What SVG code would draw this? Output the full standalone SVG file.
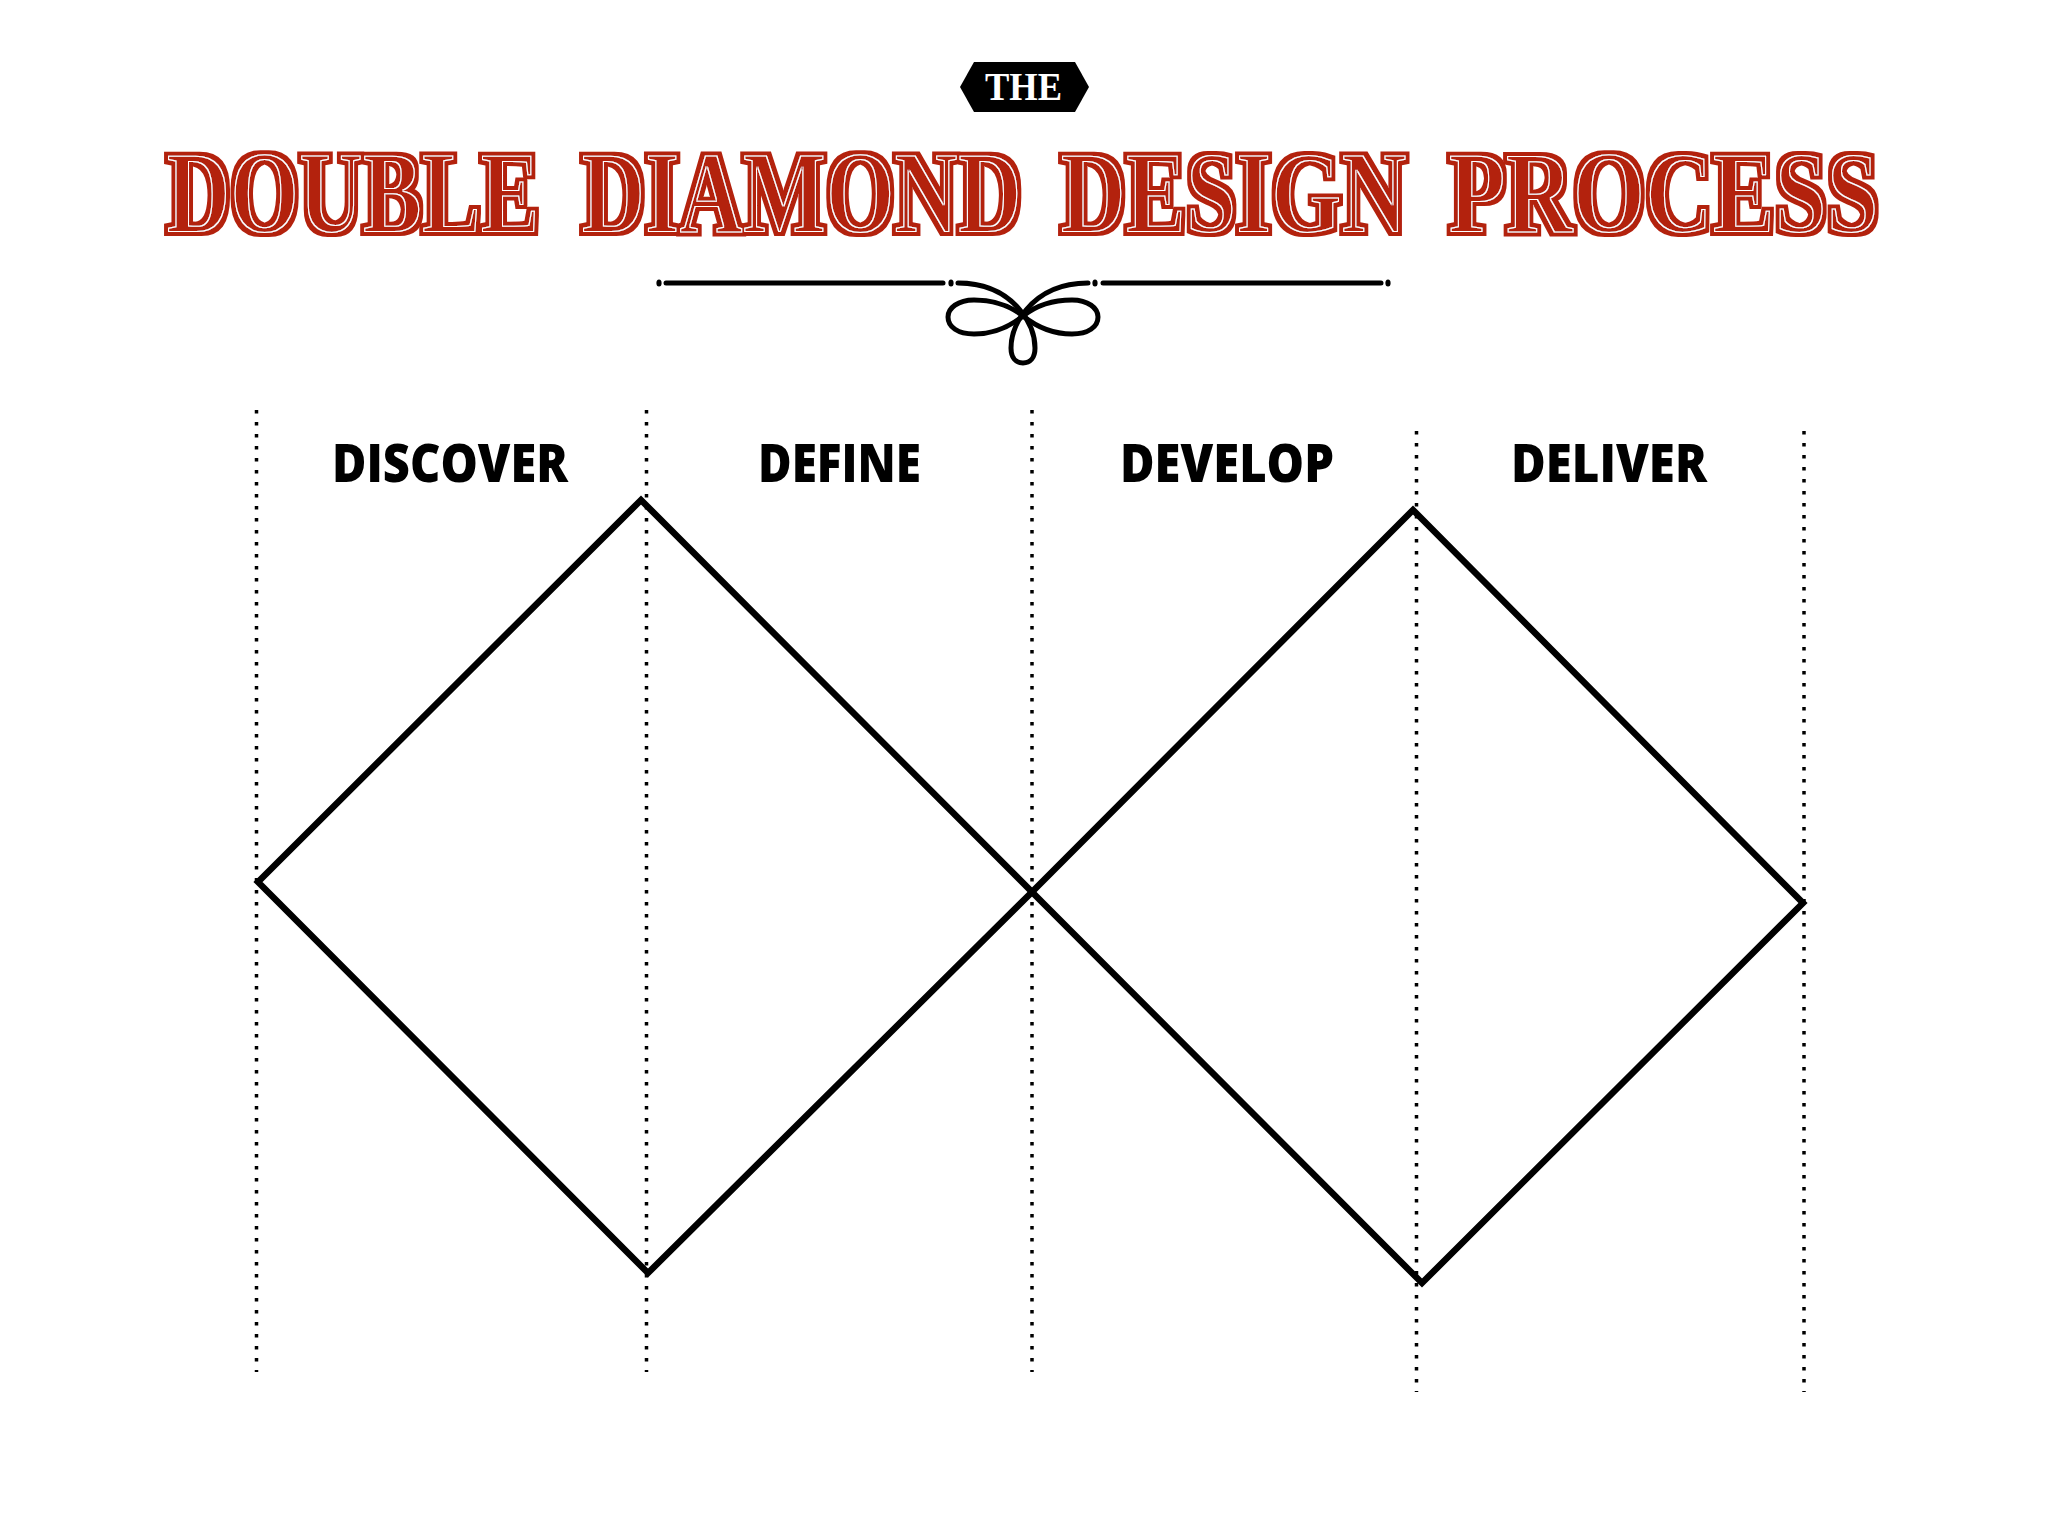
<svg xmlns="http://www.w3.org/2000/svg" width="2048" height="1536" viewBox="0 0 2048 1536">
  <defs>
    <style>
      .title { font-family: "Liberation Serif", "DejaVu Serif", serif; font-weight: bold; font-size: 116px; fill: #b3200f; }
      .badge-text { font-family: "Liberation Serif", "DejaVu Serif", serif; font-weight: bold; font-size: 39px; fill: #ffffff; }
      .label { font-family: "Open Sans", "DejaVu Sans", sans-serif; font-weight: 800; font-size: 53px; fill: #000000; }
      .guide { stroke: #000000; stroke-width: 3.5; stroke-dasharray: 3.5 8.5; fill: none; }
      .diamond { fill: none; stroke: #000000; stroke-width: 6.5; stroke-linejoin: miter; }
      .orn { fill: none; stroke: #000000; stroke-width: 5; stroke-linecap: round; stroke-linejoin: round; }
      .dot { fill: #000000; }
    </style>
    <filter id="inline" filterUnits="userSpaceOnUse" x="100" y="100" width="1850" height="180">
      <feMorphology in="SourceAlpha" operator="dilate" radius="3.5" result="fat"/>
      <feFlood flood-color="#b3200f" result="red"/>
      <feComposite in="red" in2="fat" operator="in" result="redfat"/>
      <feMorphology in="SourceAlpha" operator="erode" radius="1" result="thin"/>
      <feComposite in="SourceAlpha" in2="thin" operator="out" result="ring"/>
      <feFlood flood-color="#ffffff" result="white"/>
      <feComposite in="white" in2="ring" operator="in" result="whiteRing"/>
      <feMerge>
        <feMergeNode in="redfat"/>
        <feMergeNode in="whiteRing"/>
      </feMerge>
    </filter>
  </defs>

  <rect x="0" y="0" width="2048" height="1536" fill="#ffffff"/>

  <g id="badge">
    <polygon points="960,87 974,62 1075,62 1089,87 1075,112 974,112" fill="#000000"/>
    <text class="badge-text" x="1023.5" y="100" text-anchor="middle" textLength="77" lengthAdjust="spacingAndGlyphs">THE</text>
  </g>

  <g id="title" filter="url(#inline)">
    <text class="title" y="232" transform="scale(0.77,1)"><tspan x="216.2" textLength="484.4" lengthAdjust="spacingAndGlyphs">DOUBLE</tspan> <tspan x="755.2" textLength="571.4" lengthAdjust="spacingAndGlyphs">DIAMOND</tspan> <tspan x="1377.3" textLength="449.4" lengthAdjust="spacingAndGlyphs">DESIGN</tspan> <tspan x="1881.2" textLength="558.4" lengthAdjust="spacingAndGlyphs">PROCESS</tspan></text>
  </g>

  <g id="ornament">
    <line class="orn" x1="666" y1="283" x2="943" y2="283" stroke-width="5.5"/>
    <line class="orn" x1="1103" y1="283" x2="1381" y2="283" stroke-width="5.5"/>
    <ellipse class="dot" cx="659" cy="283" rx="2.6" ry="3.5"/>
    <ellipse class="dot" cx="951" cy="283" rx="2.6" ry="3.5"/>
    <ellipse class="dot" cx="1095" cy="283" rx="2.6" ry="3.5"/>
    <ellipse class="dot" cx="1388" cy="283" rx="2.6" ry="3.5"/>
    <path class="orn" d="M1023,316 C1008,304 992,300 974,300 C958,300 948,308 948,317 C948,327 958,334 974,334 C992,334 1008,328 1023,316 C1038,304 1054,300 1072,300 C1088,300 1098,308 1098,317 C1098,327 1088,334 1072,334 C1054,334 1038,328 1023,316 Z"/>
    <path class="orn" d="M958,283 C985,283 1005,292 1020,310 C1030,322 1035,335 1035,348 C1035,358 1030,363 1023,363 C1016,363 1011,358 1011,348 C1011,335 1016,322 1026,310 C1041,292 1061,283 1088,283"/>
  </g>

  <g id="guides">
    <line class="guide" x1="256.5" y1="410" x2="256.5" y2="1372"/>
    <line class="guide" x1="646.5" y1="410" x2="646.5" y2="1372"/>
    <line class="guide" x1="1032" y1="410" x2="1032" y2="1372"/>
    <line class="guide" x1="1416.5" y1="431" x2="1416.5" y2="1392"/>
    <line class="guide" x1="1804" y1="431" x2="1804" y2="1392"/>
  </g>

  <g id="label-discover">
    <text class="label" x="450" y="482" text-anchor="middle" textLength="236" lengthAdjust="spacingAndGlyphs">DISCOVER</text>
  </g>
  <g id="label-define">
    <text class="label" x="839.5" y="482" text-anchor="middle" textLength="163" lengthAdjust="spacingAndGlyphs">DEFINE</text>
  </g>
  <g id="label-develop">
    <text class="label" x="1227" y="482" text-anchor="middle" textLength="214" lengthAdjust="spacingAndGlyphs">DEVELOP</text>
  </g>
  <g id="label-deliver">
    <text class="label" x="1609" y="482" text-anchor="middle" textLength="196" lengthAdjust="spacingAndGlyphs">DELIVER</text>
  </g>

  <g id="diamond-1">
    <polygon class="diamond" points="258,882 641,500 1032,892 648,1273"/>
  </g>
  <g id="diamond-2">
    <polygon class="diamond" points="1032,892 1413,510 1803,903 1422,1283"/>
  </g>
</svg>
